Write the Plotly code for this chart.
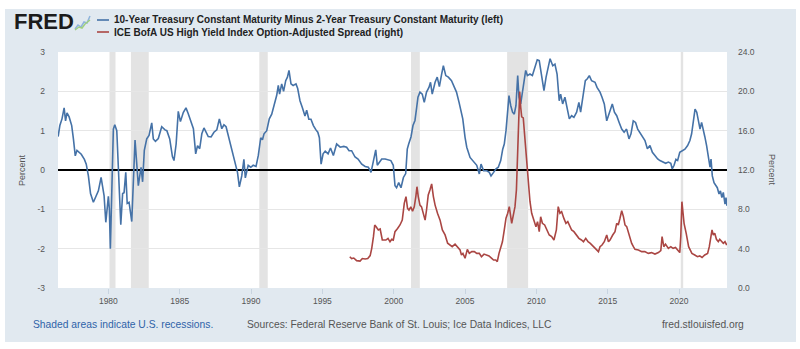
import plotly.graph_objects as go

# 10-Year minus 2-Year Treasury constant maturity spread (percent, left axis)
spread_year = [
    1976.48, 1976.6, 1976.75, 1976.9, 1977.0, 1977.1, 1977.25, 1977.43, 1977.55, 1977.68,
    1977.8, 1977.95, 1978.1, 1978.32, 1978.45, 1978.6, 1978.75, 1978.95, 1979.1, 1979.3,
    1979.49, 1979.58, 1979.7, 1979.82, 1979.93, 1980.0, 1980.07, 1980.14, 1980.35, 1980.45,
    1980.59, 1980.7, 1980.87, 1981.0, 1981.1, 1981.22, 1981.32, 1981.45, 1981.64, 1981.87,
    1981.97, 1982.1, 1982.29, 1982.4, 1982.52, 1982.69, 1982.85, 1983.04, 1983.15, 1983.3,
    1983.5, 1983.74, 1983.97, 1984.1, 1984.3, 1984.49, 1984.6, 1984.75, 1984.9, 1985.05,
    1985.25, 1985.44, 1985.6, 1985.78, 1985.96, 1986.12, 1986.25, 1986.4, 1986.55, 1986.7,
    1986.85, 1987.0, 1987.2, 1987.4, 1987.6, 1987.78, 1987.95, 1988.1, 1988.25, 1988.45,
    1988.62, 1988.76, 1988.9, 1989.05, 1989.18, 1989.35, 1989.5, 1989.6, 1989.8, 1989.98,
    1990.15, 1990.35, 1990.51, 1990.68, 1990.8, 1990.91, 1991.1, 1991.28, 1991.45, 1991.61,
    1991.8, 1991.91, 1992.0, 1992.15, 1992.28, 1992.43, 1992.55, 1992.66, 1992.8, 1992.95,
    1993.15, 1993.27, 1993.43, 1993.6, 1993.78, 1993.9, 1994.05, 1994.2, 1994.37, 1994.55,
    1994.68, 1994.79, 1994.91, 1995.05, 1995.2, 1995.4, 1995.57, 1995.77, 1996.0, 1996.25,
    1996.5, 1996.7, 1996.87, 1997.05, 1997.29, 1997.5, 1997.76, 1998.0, 1998.22, 1998.41,
    1998.55, 1998.74, 1998.85, 1999.0, 1999.16, 1999.4, 1999.63, 1999.8, 1999.97, 2000.09,
    2000.2, 2000.35, 2000.51, 2000.68, 2000.84, 2000.95, 2001.05, 2001.21, 2001.35, 2001.49,
    2001.61, 2001.7, 2001.84, 2002.0, 2002.14, 2002.3, 2002.47, 2002.58, 2002.7, 2002.9,
    2003.05, 2003.2, 2003.36, 2003.48, 2003.65, 2003.83, 2004.05, 2004.25, 2004.4, 2004.58,
    2004.7, 2004.84, 2005.0, 2005.12, 2005.35, 2005.6, 2005.82, 2006.0, 2006.12, 2006.3,
    2006.52, 2006.7, 2006.82, 2007.0, 2007.17, 2007.33, 2007.5, 2007.64, 2007.75, 2007.87,
    2007.97, 2008.08, 2008.2, 2008.33, 2008.45, 2008.57, 2008.69, 2008.78, 2008.9, 2009.05,
    2009.13, 2009.25, 2009.37, 2009.55, 2009.72, 2009.9, 2010.06, 2010.2, 2010.37, 2010.53,
    2010.68, 2010.84, 2010.96, 2011.15, 2011.3, 2011.45, 2011.6, 2011.7, 2011.84, 2012.0,
    2012.12, 2012.31, 2012.47, 2012.63, 2012.82, 2012.98, 2013.1, 2013.29, 2013.43, 2013.57,
    2013.71, 2013.87, 2014.11, 2014.25, 2014.46, 2014.6, 2014.76, 2014.93, 2015.05, 2015.16,
    2015.32, 2015.47, 2015.63, 2015.8, 2015.98, 2016.15, 2016.32, 2016.49, 2016.63, 2016.79,
    2016.95, 2017.1, 2017.27, 2017.44, 2017.61, 2017.78, 2017.96, 2018.13, 2018.31, 2018.5,
    2018.66, 2018.88, 2019.06, 2019.25, 2019.42, 2019.52, 2019.65, 2019.78, 2019.9, 2020.05,
    2020.23, 2020.41, 2020.6, 2020.76, 2020.88, 2020.99, 2021.12, 2021.24, 2021.35, 2021.47,
    2021.58, 2021.7, 2021.81, 2021.93, 2022.05, 2022.17, 2022.24, 2022.33, 2022.45, 2022.57,
    2022.68, 2022.8, 2022.9, 2023.0, 2023.1, 2023.22, 2023.29, 2023.36,
]
spread_pct = [
    0.85, 1.13, 1.30, 1.58, 1.25, 1.45, 1.35, 1.13, 0.79, 0.36,
    0.50, 0.44, 0.40, 0.27, 0.15, -0.15, -0.60, -0.82, -0.70, -0.53,
    -0.19, -0.45, -0.65, -1.33, -0.90, -0.67, -1.00, -2.00, 1.04, 1.15,
    1.00, 0.07, -1.39, -0.60, -0.58, -0.06, -0.85, -0.82, -1.31, 0.76,
    0.15, -0.40, 0.07, -0.30, 0.50, 0.79, 0.88, 1.20, 0.79, 0.73,
    0.80, 1.10, 1.02, 1.00, 0.79, 0.34, 0.24, 0.66, 1.49, 1.23,
    1.46, 1.58, 1.43, 1.24, 1.05, 0.41, 0.62, 0.54, 0.92, 1.07,
    0.96, 0.85, 0.84, 0.96, 1.02, 1.30, 1.05, 1.15, 1.10, 0.82,
    0.54, 0.41, 0.15, -0.06, -0.43, -0.15, 0.27, -0.20, 0.12, 0.07,
    0.12, 0.09, 0.37, 0.82, 0.77, 0.92, 1.00, 1.30, 1.42, 1.64,
    1.90, 2.15, 1.93, 2.19, 2.00, 2.27, 2.36, 2.53, 2.19, 2.15,
    2.19, 2.07, 1.76, 1.58, 1.37, 1.52, 1.29, 1.29, 1.13, 1.02,
    0.96, 0.82, 0.15, 0.41, 0.48, 0.41, 0.56, 0.37, 0.66, 0.58,
    0.60, 0.58, 0.49, 0.49, 0.33, 0.28, 0.15, 0.09, 0.07, -0.06,
    0.15, 0.51, 0.12, 0.20, 0.28, 0.28, 0.25, 0.24, 0.12, -0.40,
    -0.45, -0.32, -0.45, -0.19, -0.09, 0.53, 0.66, 0.84, 1.13, 1.26,
    1.59, 1.85, 1.98, 1.93, 1.72, 1.98, 2.10, 2.23, 1.93, 2.23,
    2.36, 2.12, 2.44, 2.65, 2.40, 2.36, 2.27, 2.10, 1.98, 1.72,
    1.50, 1.30, 0.83, 0.58, 0.32, 0.20, 0.12, -0.10, 0.15, -0.02,
    -0.02, -0.06, -0.15, -0.06, 0.03, 0.07, 0.24, 0.53, 0.66, 1.00,
    1.47, 1.89, 1.64, 1.47, 1.42, 1.64, 2.40, 1.85, 1.68, 2.02,
    2.19, 2.53, 2.40, 2.44, 2.40, 2.65, 2.80, 2.78, 2.44, 2.02,
    2.36, 2.65, 2.83, 2.65, 2.69, 2.44, 1.76, 1.93, 1.68, 1.85,
    1.64, 1.30, 1.38, 1.34, 1.47, 1.72, 1.47, 1.93, 2.27, 2.32,
    2.40, 2.27, 2.23, 2.10, 1.98, 1.85, 1.68, 1.25, 1.38, 1.47,
    1.68, 1.47, 1.38, 1.21, 1.04, 0.96, 1.04, 0.79, 0.92, 1.25,
    1.21, 1.04, 0.94, 0.87, 0.75, 0.54, 0.62, 0.45, 0.37, 0.28,
    0.24, 0.20, 0.17, 0.20, 0.17, 0.03, 0.12, 0.27, 0.24, 0.45,
    0.49, 0.53, 0.62, 0.75, 0.92, 1.25, 1.55, 1.47, 1.25, 1.04,
    1.21, 1.04, 0.84, 0.62, 0.32, 0.07, 0.28, -0.15, -0.32, -0.40,
    -0.45, -0.61, -0.53, -0.70, -0.57, -0.87, -0.70, -0.91,
]

# ICE BofA US High Yield Index option-adjusted spread (percent, right axis)
hy_year = [
    1996.92, 1997.05, 1997.2, 1997.4, 1997.64, 1997.8, 1998.0, 1998.18, 1998.35, 1998.46,
    1998.58, 1998.67, 1998.78, 1998.92, 1999.05, 1999.2, 1999.45, 1999.6, 1999.74, 1999.86,
    1999.97, 2000.09, 2000.27, 2000.44, 2000.6, 2000.74, 2000.86, 2000.97, 2001.07, 2001.2,
    2001.32, 2001.44, 2001.55, 2001.63, 2001.72, 2001.84, 2001.95, 2002.07, 2002.2, 2002.3,
    2002.42, 2002.54, 2002.66, 2002.78, 2002.9, 2003.07, 2003.25, 2003.41, 2003.6, 2003.78,
    2003.95, 2004.1, 2004.3, 2004.48, 2004.65, 2004.75, 2004.85, 2005.0, 2005.16, 2005.3,
    2005.47, 2005.65, 2005.82, 2006.0, 2006.15, 2006.33, 2006.5, 2006.68, 2006.87, 2007.0,
    2007.15, 2007.26, 2007.38, 2007.5, 2007.62, 2007.75, 2007.87, 2007.99, 2008.1, 2008.27,
    2008.38, 2008.5, 2008.6, 2008.69, 2008.76, 2008.83, 2008.9, 2008.97, 2009.08, 2009.2,
    2009.32, 2009.44, 2009.55, 2009.67, 2009.82, 2009.97, 2010.08, 2010.2, 2010.3, 2010.42,
    2010.58, 2010.72, 2010.9, 2011.07, 2011.23, 2011.4, 2011.53, 2011.65, 2011.77, 2011.92,
    2012.07, 2012.2, 2012.33, 2012.47, 2012.63, 2012.82, 2012.98, 2013.16, 2013.3, 2013.46,
    2013.62, 2013.78, 2013.99, 2014.2, 2014.35, 2014.46, 2014.6, 2014.76, 2014.93, 2015.05,
    2015.16, 2015.35, 2015.51, 2015.63, 2015.74, 2015.86, 2015.98, 2016.1, 2016.21, 2016.33,
    2016.45, 2016.57, 2016.68, 2016.8, 2016.91, 2017.15, 2017.38, 2017.6, 2017.84, 2018.07,
    2018.31, 2018.55, 2018.72, 2018.81, 2018.93, 2019.05, 2019.25, 2019.42, 2019.58, 2019.75,
    2019.89, 2020.05, 2020.12, 2020.2, 2020.28, 2020.35, 2020.5, 2020.58, 2020.67, 2020.78,
    2020.9, 2021.1, 2021.29, 2021.45, 2021.61, 2021.8, 2022.0, 2022.12, 2022.22, 2022.31,
    2022.4, 2022.5, 2022.62, 2022.75, 2022.85, 2022.97, 2023.1, 2023.22, 2023.34,
]
hy_pct = [
    3.18, 3.00, 3.05, 2.78, 2.74, 3.00, 2.95, 3.00, 3.30, 4.03,
    5.22, 6.41, 6.20, 5.90, 6.00, 4.88, 4.88, 5.05, 4.70, 4.95,
    4.88, 5.73, 6.05, 6.41, 6.90, 8.61, 9.29, 8.10, 7.93, 8.25,
    7.80, 8.25, 9.30, 10.30, 9.30, 8.43, 8.25, 7.60, 6.90, 7.93,
    9.46, 9.97, 10.58, 9.30, 8.43, 7.60, 6.90, 5.90, 5.40, 4.55,
    4.37, 4.20, 4.46, 4.12, 3.87, 3.36, 3.52, 3.02, 3.93, 3.52,
    3.70, 3.70, 3.52, 3.52, 3.18, 3.45, 3.36, 3.26, 3.02, 2.85,
    2.85, 2.68, 3.52, 4.20, 4.70, 5.90, 7.10, 7.60, 8.27, 6.58,
    7.40, 8.27, 9.97, 14.00, 18.10, 19.97, 18.40, 17.40, 17.30, 15.05,
    12.30, 9.97, 8.80, 7.60, 6.90, 6.24, 6.75, 5.73, 7.25, 6.58,
    6.41, 5.90, 5.39, 5.22, 4.88, 5.90, 8.27, 7.60, 7.77, 7.10,
    6.58, 6.75, 6.41, 5.90, 5.73, 5.39, 5.05, 4.88, 4.70, 5.05,
    4.70, 4.54, 4.20, 3.93, 3.70, 4.20, 4.37, 4.71, 5.39, 4.71,
    4.88, 5.39, 5.73, 6.58, 6.41, 7.09, 7.86, 7.26, 6.41, 6.24,
    5.56, 4.88, 4.54, 4.20, 3.93, 3.87, 3.70, 3.70, 3.52, 3.60,
    3.45, 3.60, 3.80, 5.22, 4.20, 4.46, 4.03, 4.20, 4.03, 4.12,
    3.87, 3.60, 5.22, 8.78, 7.60, 6.58, 5.56, 5.05, 4.20, 3.87,
    3.52, 3.36, 3.18, 3.26, 3.10, 3.36, 3.52, 4.20, 5.22, 5.90,
    5.39, 5.56, 4.95, 4.71, 4.95, 4.71, 4.54, 4.71, 4.37,
]

# NBER recession periods (start, end) in decimal years
recessions = [
    (1980.08, 1980.50), (1981.58, 1982.83), (1990.58, 1991.17),
    (2001.21, 2001.83), (2007.95, 2009.42), (2020.12, 2020.29),
]

x_ticks = [1980, 1985, 1990, 1995, 2000, 2005, 2010, 2015, 2020]
left_ticks = [-3, -2, -1, 0, 1, 2, 3]
right_ticks = [0, 4, 8, 12, 16, 20, 24]

W, H = 800, 349
L, R, T, B = 58, 73, 52, 61
PW, PH = W - L - R, H - T - B


def px(x):
    return (x - L) / PW


def py(y):
    return (H - B - y) / PH


FONT = "Liberation Sans, Arial, sans-serif"
NARROW = "Liberation Sans Narrow, Arial Narrow, Liberation Sans, Arial, sans-serif"
PANEL = "#e1e9f0"
BLUE = "#4572a7"
RED = "#aa4643"

fig = go.Figure()
fig.add_trace(go.Scatter(
    x=spread_year, y=spread_pct, mode="lines", yaxis="y",
    line=dict(color=BLUE, width=1.6), hoverinfo="skip",
))
fig.add_trace(go.Scatter(
    x=hy_year, y=hy_pct, mode="lines", yaxis="y2",
    line=dict(color=RED, width=1.6), hoverinfo="skip",
))

shapes = []
for start, end in recessions:
    shapes.append(dict(type="rect", xref="x", yref="paper", x0=start, x1=end,
                       y0=0, y1=1, fillcolor="#e3e3e3", line=dict(width=0),
                       layer="below"))

# white frame around the grey-blue panel
for x0, x1, y0, y1 in [(0, 800, 0, 9), (0, 800, 342, 349), (0, 5, 0, 349), (796, 800, 0, 349)]:
    shapes.append(dict(type="rect", xref="paper", yref="paper",
                       x0=px(x0), x1=px(x1), y0=py(y1), y1=py(y0),
                       fillcolor="white", line=dict(width=0), layer="above"))

# legend line samples
LEG_Y = (20, 32)
for yy, col in zip(LEG_Y, (BLUE, RED)):
    shapes.append(dict(type="line", xref="paper", yref="paper",
                       x0=px(97), x1=px(109), y0=py(yy), y1=py(yy),
                       line=dict(color=col, width=1.6)))

# small line-chart icon next to the logo
icon_blue = [(75, 29), (78, 25), (81, 27), (84, 22), (87, 23), (90, 16)]
icon_green = [(75, 30), (79, 27), (82, 28), (85, 24), (90, 20)]
for pts, col in [(icon_blue, "#8fb3dc"), (icon_green, "#9fcf7f")]:
    path = "M " + " L ".join(f"{px(a):.5f},{py(b):.5f}" for a, b in pts)
    shapes.append(dict(type="path", xref="paper", yref="paper", path=path,
                       line=dict(color=col, width=1.5)))

annotations = [
    dict(text="<b>FRED</b>", x=px(12), y=py(22), xanchor="left", yanchor="middle",
         font=dict(family=FONT, size=22, color="#1b1b1b")),
    dict(text="<b>10-Year Treasury Constant Maturity Minus 2-Year Treasury Constant Maturity (left)</b>",
         x=px(112), y=py(LEG_Y[0]), xanchor="left", yanchor="middle",
         font=dict(family=NARROW, size=10, color="#222222")),
    dict(text="<b>ICE BofA US High Yield Index Option-Adjusted Spread (right)</b>",
         x=px(112), y=py(LEG_Y[1]), xanchor="left", yanchor="middle",
         font=dict(family=NARROW, size=10, color="#222222")),
    dict(text="Percent", x=px(22), y=py(170), textangle=-90, xanchor="center", yanchor="middle",
         font=dict(family=FONT, size=9, color="#555555")),
    dict(text="Percent", x=px(772), y=py(170), textangle=90, xanchor="center", yanchor="middle",
         font=dict(family=FONT, size=9, color="#555555")),
    dict(text="Shaded areas indicate U.S. recessions.", x=px(31), y=py(324),
         xanchor="left", yanchor="middle", font=dict(family=FONT, size=10.3, color="#2f63a8")),
    dict(text="Sources: Federal Reserve Bank of St. Louis; Ice Data Indices, LLC", x=px(245), y=py(324),
         xanchor="left", yanchor="middle", font=dict(family=FONT, size=10.3, color="#555555")),
    dict(text="fred.stlouisfed.org", x=px(746), y=py(324),
         xanchor="right", yanchor="middle", font=dict(family=FONT, size=10.3, color="#555555")),
]
for a in annotations:
    a.update(xref="paper", yref="paper", showarrow=False)

fig.update_layout(
    width=W, height=H,
    margin=dict(l=L, r=R, t=T, b=B, pad=0),
    paper_bgcolor=PANEL, plot_bgcolor="white",
    showlegend=False,
    font=dict(family=FONT, size=8.5, color="#555555"),
    xaxis=dict(range=[1976.47, 2023.36], tickvals=x_ticks, ticktext=[str(v) for v in x_ticks],
               showgrid=False, zeroline=False, showline=False,
               ticks="outside", ticklen=5, tickcolor="#c8d4e0", tickwidth=1),
    yaxis=dict(range=[-3, 3], tickvals=left_ticks, ticktext=[str(v) for v in left_ticks],
               showgrid=True, gridcolor="#e6e6e6", gridwidth=1,
               zeroline=True, zerolinecolor="#000000", zerolinewidth=2,
               showline=False, ticks="", ticklabelstandoff=12),
    yaxis2=dict(range=[0, 24], tickvals=right_ticks, ticktext=[f"{v:.1f}" for v in right_ticks],
                overlaying="y", side="right", showgrid=False, zeroline=False,
                showline=False, ticks="", ticklabelstandoff=10),
    shapes=shapes,
    annotations=annotations,
)

fig.write_html("out.html")
